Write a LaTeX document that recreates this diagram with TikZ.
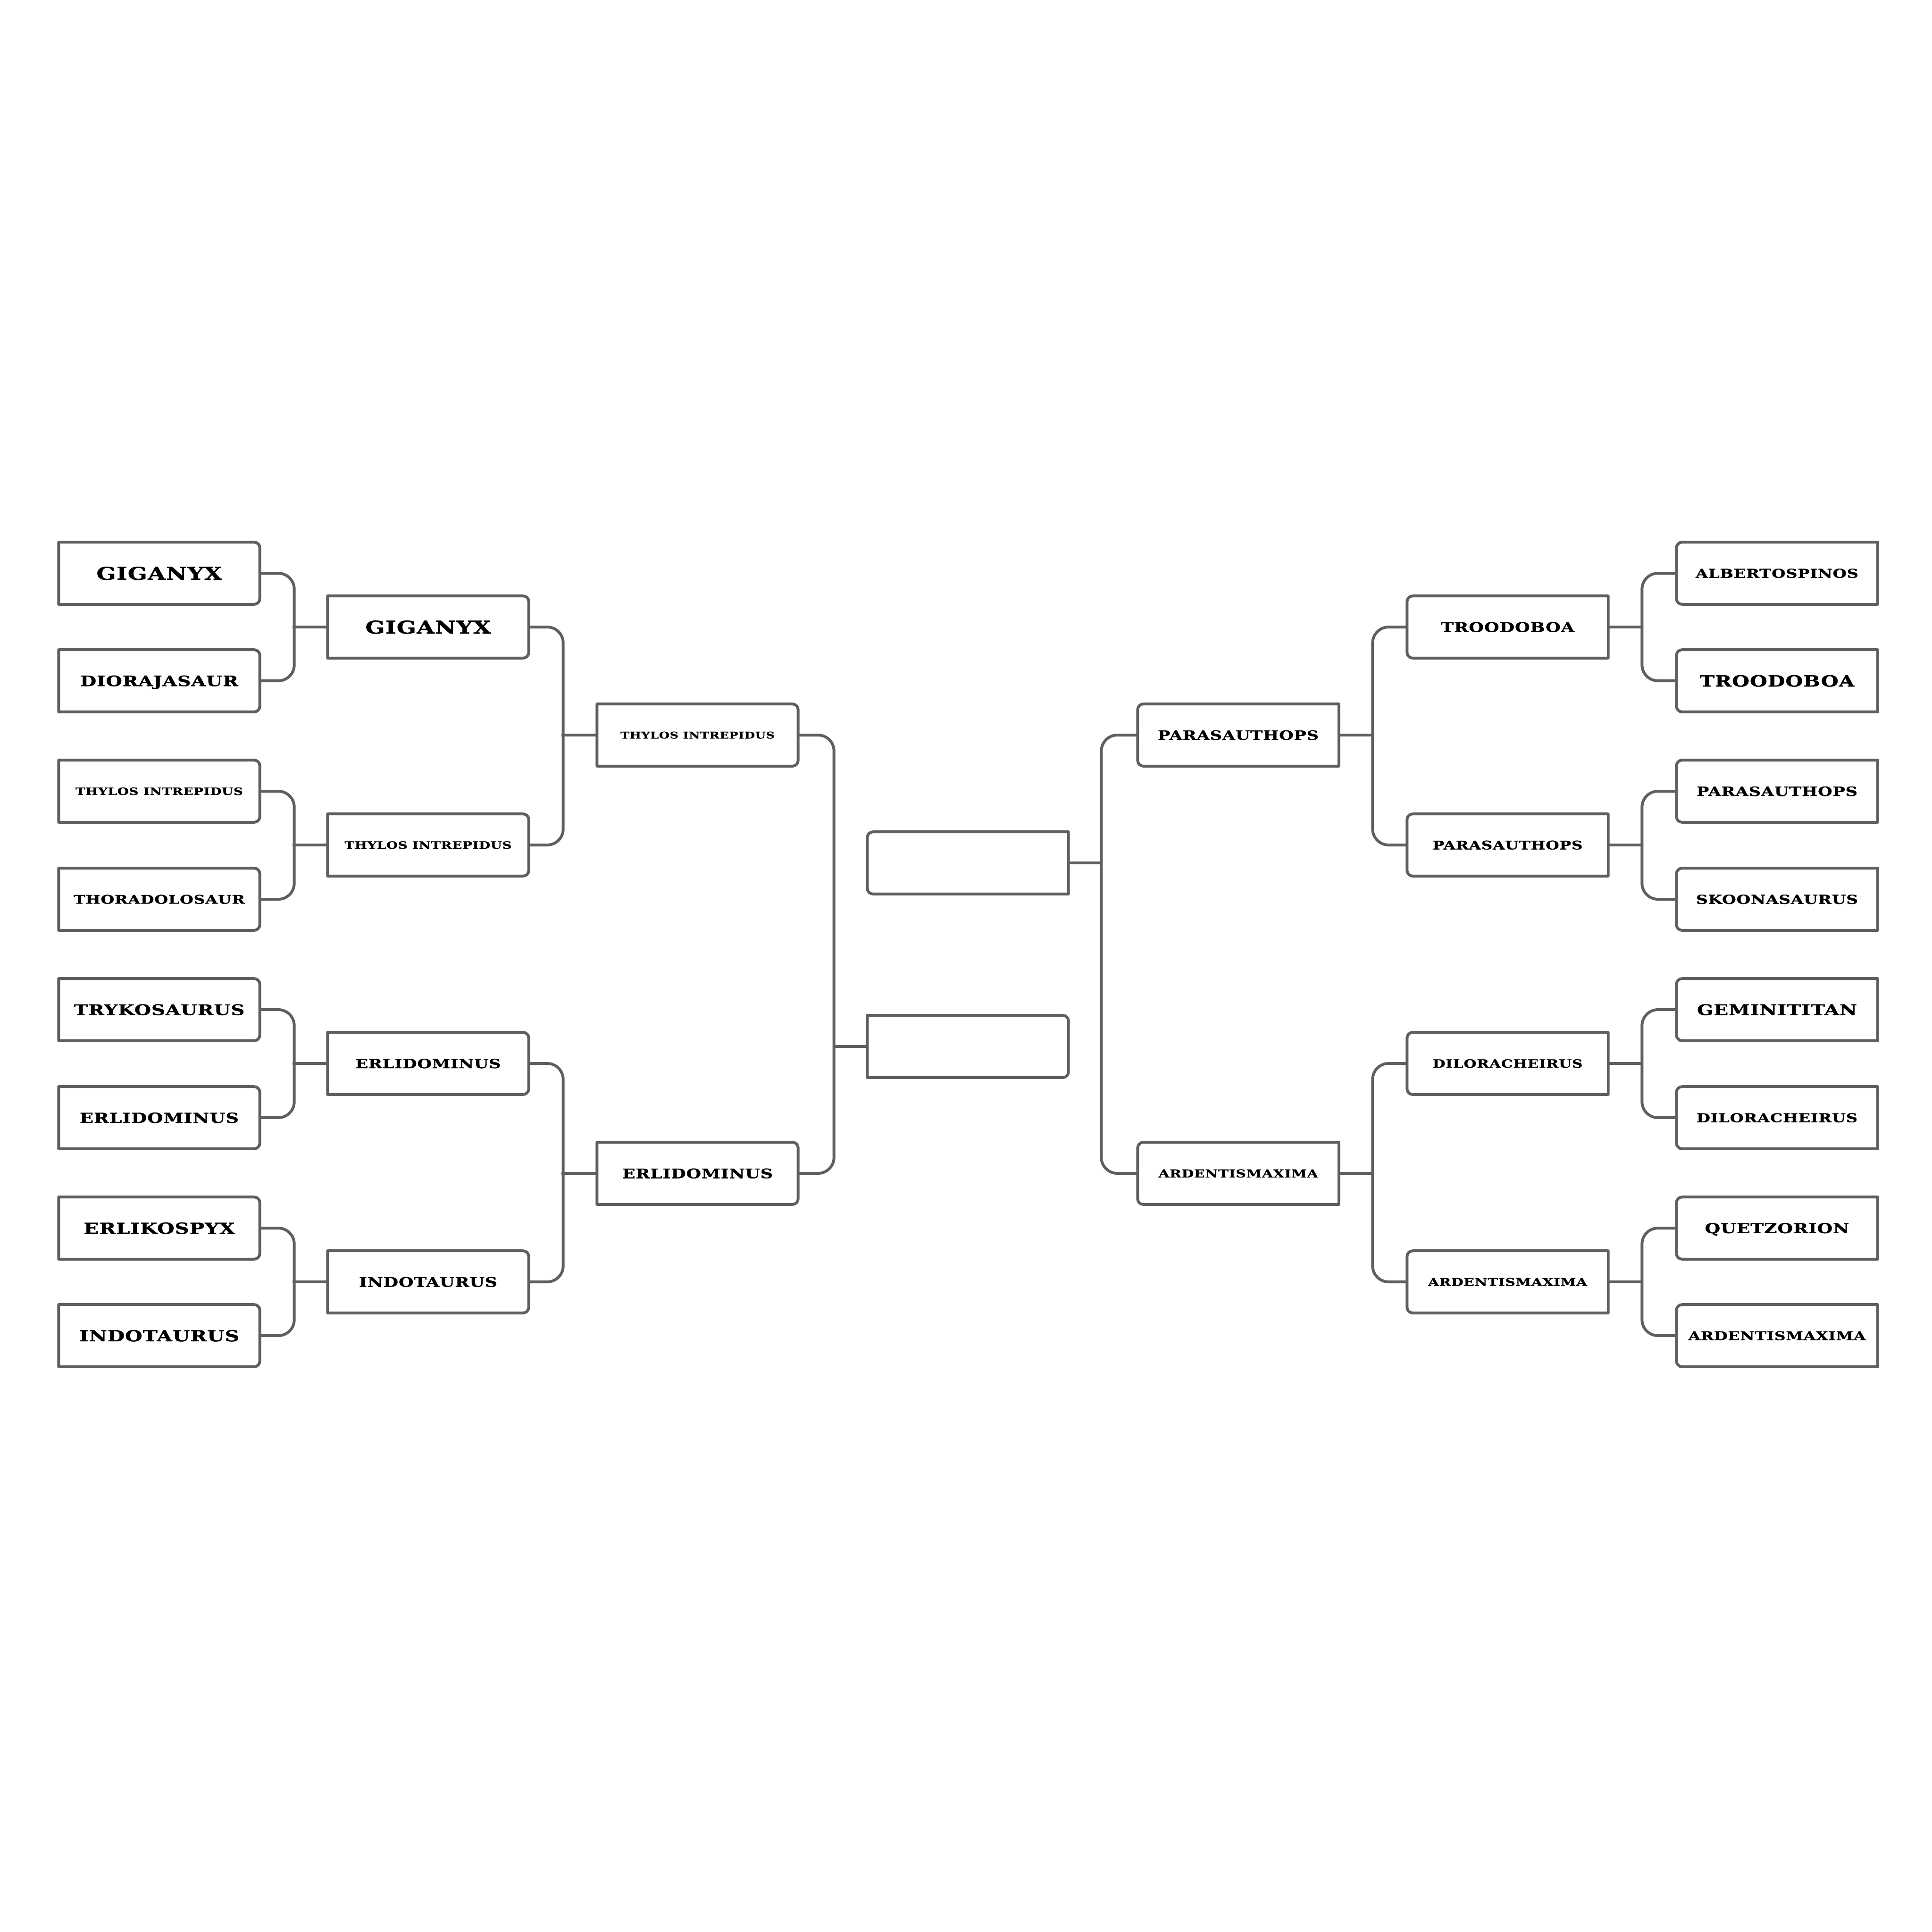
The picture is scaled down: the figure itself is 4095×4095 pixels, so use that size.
\documentclass[tikz,border=0pt]{standalone}
\usepackage{tikz}
\usepackage{graphicx}
\usepackage{fontspec}
\newfontfamily\namefont{DejaVu Serif}[LetterSpace=3,FakeStretch=1.3,FakeBold=1.2]

% one unit of the picture
\newlength\px
\setlength\px{0.005cm}
% a name, set to a given width
\newcommand\nm[2]{\resizebox{#1\px}{!}{\namefont\bfseries #2}}
\newcommand\cornr{0.06cm}
\definecolor{wire}{HTML}{5F5F5F}

\tikzset{
  slot/.style={minimum width=2.12cm, minimum height=0.645cm, inner sep=0pt, text depth=0pt},
  boxline/.style={draw=wire, line width=0.85pt, line join=round},
  link/.style={draw=wire, line width=0.85pt, rounded corners=0.17cm}
}

% box: square on the left, rounded on the right
\newcommand\boxL[1]{\draw[boxline] (#1.south west) -- (#1.north west)
  -- ([xshift=-\cornr]#1.north east) arc[start angle=90,end angle=0,radius=\cornr]
  -- ([yshift=\cornr]#1.south east) arc[start angle=0,end angle=-90,radius=\cornr] -- cycle;}
% box: rounded on the left, square on the right
\newcommand\boxR[1]{\draw[boxline] (#1.south east) -- (#1.north east)
  -- ([xshift=\cornr]#1.north west) arc[start angle=90,end angle=180,radius=\cornr]
  -- ([yshift=\cornr]#1.south west) arc[start angle=180,end angle=270,radius=\cornr] -- cycle;}

\begin{document}
\begin{tikzpicture}[x=0.005cm, y=-0.005cm]
    \useasboundingbox (0,0) rectangle (4095,4095);

    % Left half, first round
    \node[slot] (l1a) at (337.5,1215) {\nm{266}{GIGANYX}};
    \node[slot] (l1b) at (337.5,1443) {\nm{335}{DIORAJASAUR}};
    \node[slot] (l1c) at (337.5,1677) {\nm{355}{THYLOS INTREPIDUS}};
    \node[slot] (l1d) at (337.5,1906) {\nm{363}{THORADOLOSAUR}};
    \node[slot] (l1e) at (337.5,2140) {\nm{362}{TRYKOSAURUS}};
    \node[slot] (l1f) at (337.5,2369) {\nm{337}{ERLIDOMINUS}};
    \node[slot] (l1g) at (337.5,2603) {\nm{320}{ERLIKOSPYX}};
    \node[slot] (l1h) at (337.5,2831) {\nm{339}{INDOTAURUS}};

    % Left half, second and third round
    \node[slot] (l2a) at (907.5,1329) {\nm{266}{GIGANYX}};
    \node[slot] (l2b) at (907.5,1791) {\nm{354}{THYLOS INTREPIDUS}};
    \node[slot] (l2c) at (907.5,2254) {\nm{308}{ERLIDOMINUS}};
    \node[slot] (l2d) at (907.5,2717) {\nm{293}{INDOTAURUS}};
    \node[slot] (l3a) at (1478.5,1558) {\nm{327}{THYLOS INTREPIDUS}};
    \node[slot] (l3b) at (1478.5,2487) {\nm{319}{ERLIDOMINUS}};

    % Final (left empty)
    \node[slot] (fin1) at (2051.5,1829) {};
    \node[slot] (fin2) at (2051.5,2218) {};

    % Right half, third and second round
    \node[slot] (r3a) at (2624.5,1558) {\nm{341}{PARASAUTHOPS}};
    \node[slot] (r3b) at (2624.5,2487) {\nm{338}{ARDENTISMAXIMA}};
    \node[slot] (r2a) at (3195.5,1329) {\nm{283}{TROODOBOA}};
    \node[slot] (r2b) at (3195.5,1791) {\nm{318}{PARASAUTHOPS}};
    \node[slot] (r2c) at (3195.5,2254) {\nm{318}{DILORACHEIRUS}};
    \node[slot] (r2d) at (3195.5,2717) {\nm{337}{ARDENTISMAXIMA}};

    % Right half, first round
    \node[slot] (r1a) at (3766.5,1215) {\nm{345}{ALBERTOSPINOS}};
    \node[slot] (r1b) at (3766.5,1443) {\nm{328}{TROODOBOA}};
    \node[slot] (r1c) at (3766.5,1677) {\nm{341}{PARASAUTHOPS}};
    \node[slot] (r1d) at (3766.5,1906) {\nm{343}{SKOONASAURUS}};
    \node[slot] (r1e) at (3766.5,2140) {\nm{339}{GEMINITITAN}};
    \node[slot] (r1f) at (3766.5,2369) {\nm{341}{DILORACHEIRUS}};
    \node[slot] (r1g) at (3766.5,2603) {\nm{306}{QUETZORION}};
    \node[slot] (r1h) at (3766.5,2831) {\nm{376}{ARDENTISMAXIMA}};

    % Box outlines
    \foreach \b in {l1a,l1b,l1c,l1d,l1e,l1f,l1g,l1h,l2a,l2b,l2c,l2d,l3a,l3b,fin2}
        {\boxL{\b}}
    \foreach \b in {r1a,r1b,r1c,r1d,r1e,r1f,r1g,r1h,r2a,r2b,r2c,r2d,r3a,r3b,fin1}
        {\boxR{\b}}

    % Brackets, left half
    \foreach \t/\u/\w in {l1a/l1b/l2a, l1c/l1d/l2b, l1e/l1f/l2c, l1g/l1h/l2d} {
        \draw[link] (\t.east) -- ++(73,0) |- (\u.east);
        \draw[link] (\w.west) -- ++(-74,0);
    }
    \draw[link] (l2a.east) -- ++(73,0) |- (l2b.east);
    \draw[link] (l2c.east) -- ++(73,0) |- (l2d.east);
    \draw[link] (l3a.west) -- ++(-75,0);
    \draw[link] (l3b.west) -- ++(-75,0);
    \draw[link] (l3a.east) -- ++(76,0) |- (l3b.east);
    \draw[link] (fin2.west) -- ++(-73,0);

    % Brackets, right half
    \foreach \t/\u/\w in {r1a/r1b/r2a, r1c/r1d/r2b, r1e/r1f/r2c, r1g/r1h/r2d} {
        \draw[link] (\t.west) -- ++(-73,0) |- (\u.west);
        \draw[link] (\w.east) -- ++(74,0);
    }
    \draw[link] (r2a.west) -- ++(-73,0) |- (r2b.west);
    \draw[link] (r2c.west) -- ++(-73,0) |- (r2d.west);
    \draw[link] (r3a.east) -- ++(74,0);
    \draw[link] (r3b.east) -- ++(74,0);
    \draw[link] (r3a.west) -- ++(-77,0) |- (r3b.west);
    \draw[link] (fin1.east) -- ++(72,0);
\end{tikzpicture}
\end{document}
